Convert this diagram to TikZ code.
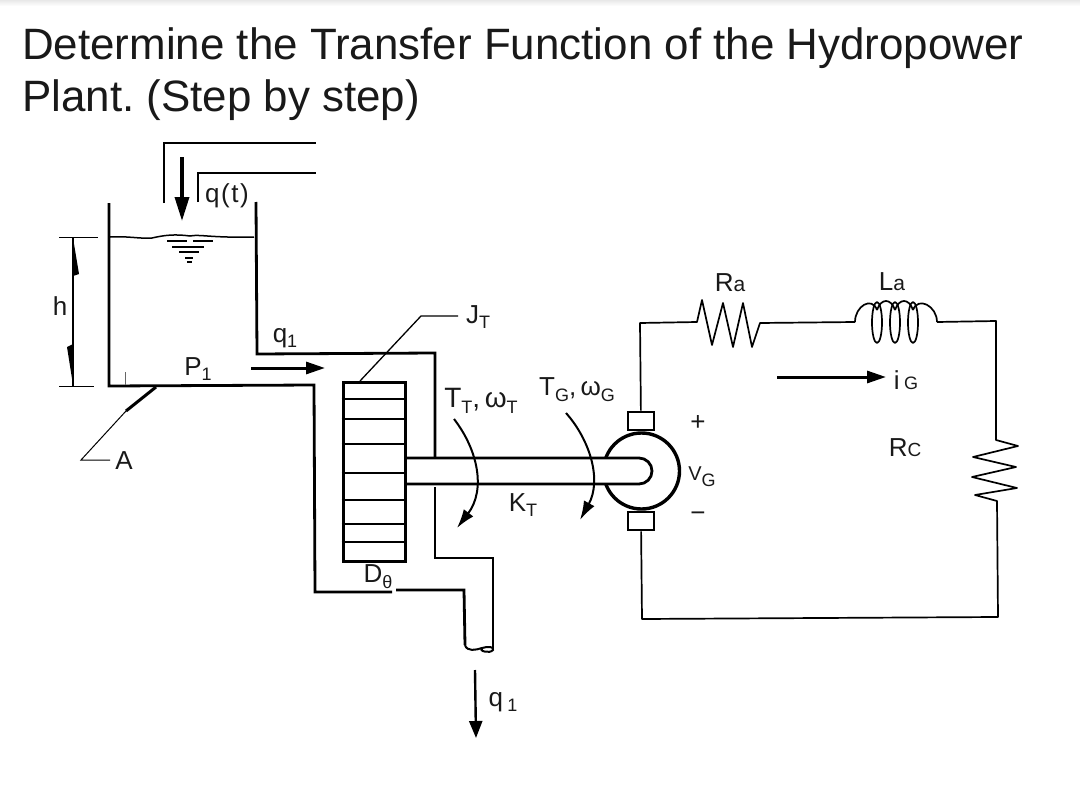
\documentclass[tikz,border=0pt]{standalone}
\usepackage{fontspec}
\setmainfont{Liberation Sans}
\usetikzlibrary{arrows.meta}
\tikzstyle{wall} = [line width=2.8pt, line join=miter]
\tikzstyle{wire} = [line width=1.7pt, line join=round]
\tikzstyle{flow} = [line width=3pt, -{Triangle[length=19pt,width=12pt]}]
\tikzstyle{turn} = [line width=2pt, -{Latex[length=19pt,width=12pt]}]
\tikzstyle{title} = [anchor=base west, inner sep=0pt, font=\fontsize{43.9}{48}\selectfont, text=black!90]
\tikzstyle{tag} = [inner sep=0pt, font=\fontsize{26}{28}\selectfont\addfontfeature{LetterSpace=6}, text=black!90]
\newcommand{\low}[1]{\raisebox{-0.22em}{\fontsize{18}{20}\selectfont #1}}
\frenchspacing

\begin{document}
\begin{tikzpicture}[x=1pt, y=-1pt]
	\useasboundingbox (0,0) rectangle (1080,792);
	\shade[top color=black!9, bottom color=white] (0,0) rectangle (1080,6);
	% title
	\node[title] (line1) at (22,60) {Determine the Transfer Function of the Hydropower};
	\node[title] (line2) at (22,112) {Plant. (Step by step)};

	% channel
	\draw[wall] (164,203) -- (164,143) -- (316,143);
	\draw[wall] (198,202) -- (198,173) -- (316,173);
	\coordinate (qtop) at (182,157);
	\coordinate (qend) at (182,221);
	\draw[line width=3.4pt, -{Triangle[length=24pt,width=14pt]}] (qtop) -- (qend);
	\node[tag] (qt) at (227,196) {q(t)};

	% tank and pipe
	\draw[wall] (109,203) -- (109,386) -- (314,385) -- (315,592) -- (392,592);
	\draw[wall] (396,590) -- (464,590) -- (465,645);
	\draw[wall] (256,202) -- (257,354) -- (435,353) -- (435,458);
	\draw[wall] (435,487) -- (435,558) -- (493,558) -- (493,648);
	\draw[line width=2pt] (465,645) .. controls (467,652) and (476,650) .. (482,648) .. controls (488,646) and (495,647) .. (493,650) .. controls (490,654) and (478,651) .. (482,648);
	\draw[line width=.4pt, black!60] (125,372) -- (125,385);

	% water level
	\draw[line width=1.5pt] (110,237) .. controls (130,236) and (140,239) .. (152,238) .. controls (165,235) and (175,234) .. (190,236) .. controls (200,234) and (210,238) .. (254,237);
	\foreach \xa/\xb/\ya in {167/187/241, 193/213/241, 172/204/247, 179/199/252, 185/193/258, 187/192/262}
		\draw[line width=1.6pt] (\xa,\ya) -- (\xb,\ya);

	% height
	\draw[line width=1pt] (59,237) -- (98,237);
	\draw[line width=1pt] (59,386) -- (94,386);
	\draw[line width=1.2pt] (73,237) -- (73,386);
	\fill (73,238) -- (79,274) -- (73,276) -- cycle;
	\fill (73,385) -- (67,347) -- (73,344) -- cycle;
	\node[tag] (h) at (60,306) {h};

	\node[tag] (q1) at (285,338) {q\low{1}};
	\node[tag] (P1) at (198,369) {P\low{1}};
	\coordinate (qa) at (251,368);
	\coordinate (qb) at (325,368);
	\draw[flow] (qa) -- (qb);

	% area leader
	\node[tag] (A) at (124,461) {A};
	\coordinate (Aa) at (156,387);
	\coordinate (Ab) at (126,411);
	\coordinate (Ac) at (81,460);
	\coordinate (Ad) at (110,460);
	\draw[line width=3pt] (Aa) -- (Ab);
	\draw[line width=1pt] (Ab) -- (Ac) -- (Ad);

	% turbine
	\node[draw, line width=3pt, minimum width=62pt, minimum height=179pt, inner sep=0pt] (wheel) at (374,471.5) {};
	\foreach \yb in {399, 419, 444, 473, 500, 524, 542}
		\draw[line width=1.2pt] (wheel.west |- 0,\yb) -- (wheel.east |- 0,\yb);
	\node[tag] (JT) at (478,317) {J\low{T}};
	\coordinate (Ja) at (360,381);
	\coordinate (Jb) at (421,316);
	\coordinate (Jc) at (458,316);
	\draw[line width=1.3pt] (Ja) -- (Jb) -- (Jc);
	\node[tag] (De) at (378,577) {D\low{θ}};

	% generator
	\node[draw, line width=3.4pt, circle, minimum size=76pt, inner sep=0pt] (gen) at (641.5,471) {};
	\node[draw, line width=2.6pt, minimum width=26pt, minimum height=18pt, inner sep=0pt] (brushT) at (641,421) {};
	\node[draw, line width=2.6pt, minimum width=26pt, minimum height=18pt, inner sep=0pt] (brushB) at (641,521) {};

	% shaft
	\draw[wall, fill=white] (407,458) -- (639,458) arc (-90:90:13) -- (407,484);

	\coordinate (Ta) at (454,419);
	\coordinate (Tb) at (457,528);
	\draw[turn] (Ta) .. controls (478,450) and (486,490) .. (Tb);
	\coordinate (Ga) at (566,413);
	\coordinate (Gb) at (580,520);
	\draw[turn] (Ga) .. controls (590,440) and (602,480) .. (Gb);
	\node[tag, font=\fontsize{28}{30}\selectfont\addfontfeature{LetterSpace=3}] (TT) at (481,401) {T\low{T},\,ω\low{T}};
	\node[tag, font=\fontsize{26}{30}\selectfont\addfontfeature{LetterSpace=3}] (TG) at (577,390) {T\low{G},\,ω\low{G}};
	\node[tag] (KT) at (523,505) {K\low{T}};

	% circuit
	\coordinate (NW) at (640,323);
	\coordinate (NE) at (996,321);
	\coordinate (SE) at (998,617);
	\coordinate (SW) at (642,619);
	\coordinate (Ra1) at (697,322);
	\coordinate (Ra2) at (760,323);
	\coordinate (La1) at (855,322);
	\coordinate (La2) at (937,322);
	\coordinate (Rc1) at (996,440);
	\coordinate (Rc2) at (997,501);
	\draw[wire] (brushT) -- (NW) -- (Ra1) -- (702,300) -- (712,345) -- (723,303) -- (733,347) -- (743,303) -- (752,347) -- (Ra2) -- (La1);
	\draw[wire] (La2) -- (NE) -- (Rc1) -- (1018,446) -- (973,457) -- (1016,467) -- (972,477) -- (1017,488) -- (975,495) -- (Rc2) -- (SE) -- (SW) -- (brushB);
	\draw[wire] (La1) .. controls (855,306) and (872,296) .. (877,310);
	\draw[wire] (913,310) .. controls (918,296) and (937,306) .. (La2);
	\foreach \xc in {877, 895, 913}
		\draw[wire] (\xc,322.5) ellipse (5pt and 20.5pt);
	\foreach \xc/\xd in {877/895, 895/913}
		\draw[wire] (\xc,310) .. controls (\xc+4,298) and (\xd-4,298) .. (\xd,310);

	\node[tag] (Ra) at (730,283) {R{\fontsize{21}{22}\selectfont a}};
	\node[tag] (La) at (892,282) {L{\fontsize{21}{22}\selectfont a}};
	\coordinate (ia) at (777,377);
	\coordinate (ib) at (886,377);
	\draw[flow] (ia) -- (ib);
	\node[tag] (iG) at (906,380) {i\,{\fontsize{18}{20}\selectfont G}};
	\node[tag] (Rc) at (905,448) {R{\fontsize{19}{20}\selectfont C}};
	\node[tag] (plus) at (698,423) {+};
	\node[tag] (VG) at (702,477) {{\fontsize{20}{20}\selectfont V}\low{G}};
	\node[tag] (minus) at (698,517) {−};

	% outflow
	\coordinate (oa) at (475,670);
	\coordinate (ob) at (476,738);
	\draw[line width=2.4pt, -{Triangle[length=17pt,width=13pt]}] (oa) -- (ob);
	\node[tag] (q2) at (503,702) {q\,\low{1}};
\end{tikzpicture}
\end{document}
